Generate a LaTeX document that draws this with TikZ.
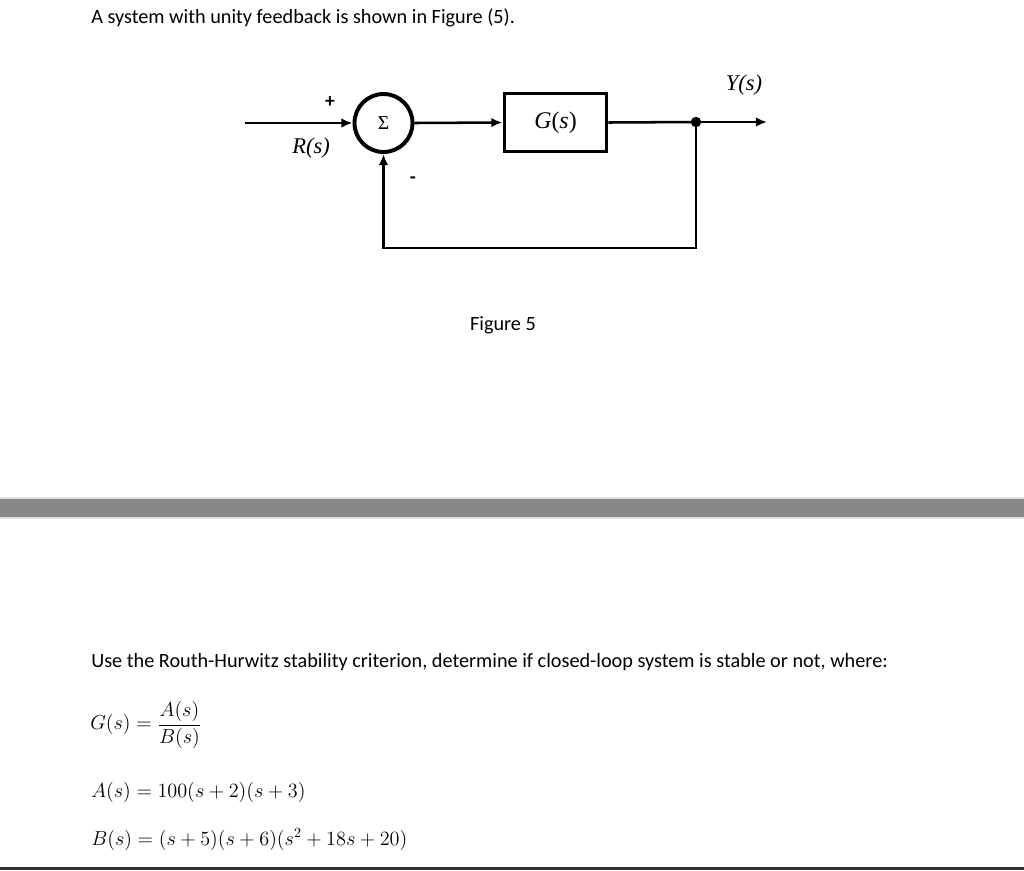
\documentclass[tikz,border=0pt]{standalone}
\usepackage{amsmath}
\usepackage{fontspec}
\setmainfont{Carlito}
\newfontfamily\tnr{Liberation Serif}
\usetikzlibrary{arrows.meta}
\definecolor{barGray}{RGB}{136,136,136}
\begin{document}
\begin{tikzpicture}[x=0.025cm,y=-0.025cm,
  wire/.style={line width=1.8pt},
  tip/.style={-{Latex[length=2.8mm,width=2.4mm]}},
  txt/.style={font=\fontsize{14.4}{17}\selectfont},
  eqn/.style={font=\fontsize{14.9}{17}\selectfont},
  lbl/.style={font=\tnr\fontsize{16}{18}\selectfont}]
\useasboundingbox (0,0) rectangle (1024,870);
% heading
\node[txt,anchor=base west,inner sep=0pt] (title) at (91,23) {A system with unity feedback is shown in Figure (5).};
% block diagram
\node[circle,draw,line width=2.8pt,minimum size=1.45cm,inner sep=0pt,font=\tnr\fontsize{14}{16}\selectfont] (sum) at (383.5,123) {Σ};
\node[draw,line width=2.8pt,minimum width=2.55cm,minimum height=1.45cm,font=\tnr\fontsize{17}{19}\selectfont] (gs) at (555.5,122.5) {\textit{G}(\textit{s})};
\coordinate (in) at (245,123);
\node[circle,fill,inner sep=0pt,minimum size=0.26cm] (dot) at (696,122) {};
\coordinate (out) at (767,122);
\coordinate (fb) at (696,248);
\draw[wire,tip] (in) -- (sum.west);
\draw[wire,tip] (sum.east) -- (gs.west);
\draw[wire] (gs.east) -- (dot.center);
\draw[wire,tip] (dot.center) -- (out);
\draw[wire,tip] (dot.center) -- (fb) -| (sum.south);
\node[font=\bfseries\fontsize{14}{16}\selectfont] (plus) at (330,102) {+};
\node[font=\bfseries\fontsize{14}{16}\selectfont] (minus) at (413,180) {-};
\node[lbl] (rs) at (311,148) {\textit{R(s)}};
\node[lbl] (ys) at (744,85) {\textit{Y(s)}};
\node[txt] (cap) at (503,325) {Figure 5};
% separator
\fill[barGray] (0,499) rectangle (1024,517);
\draw[gray!25,line width=0.8pt] (0,498) -- (1024,498) (0,518) -- (1024,518);
% question
\node[txt,anchor=base west,inner sep=0pt] (task) at (91,667) {Use the Routh-Hurwitz stability criterion, determine if closed-loop system is stable or not, where:};
\node[eqn,anchor=west,inner sep=0pt] (geq) at (90,725) {$G(s)=\dfrac{A(s)}{B(s)}$};
\node[eqn,anchor=base west,inner sep=0pt] (aeq) at (91,797) {$A(s)=100(s+2)(s+3)$};
\node[eqn,anchor=base west,inner sep=0pt] (beq) at (91,845) {$B(s)=(s+5)(s+6)(s^2+18s+20)$};
\draw[black!80,line width=2.2pt] (0,868.5) -- (1024,868.5);
\end{tikzpicture}
\end{document}
